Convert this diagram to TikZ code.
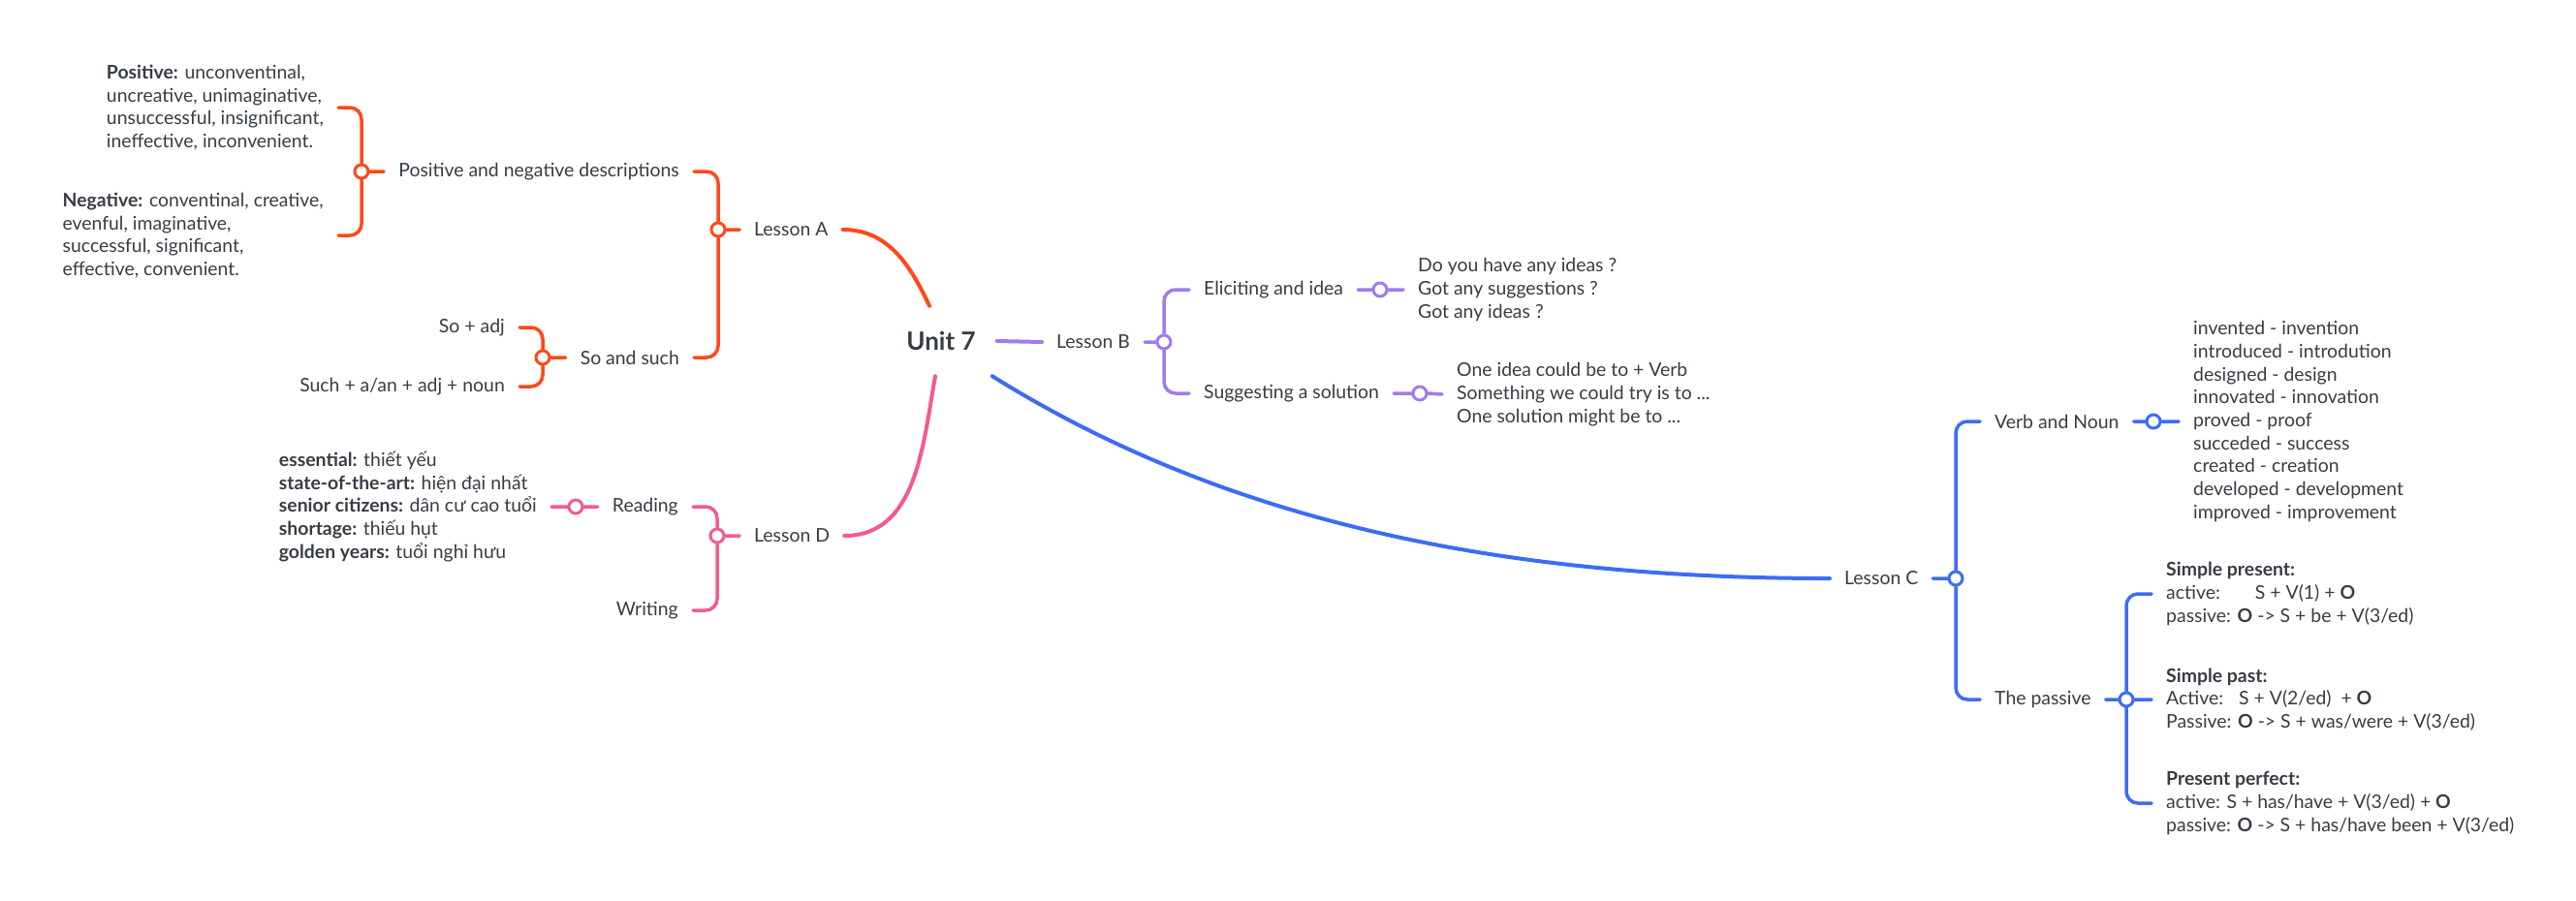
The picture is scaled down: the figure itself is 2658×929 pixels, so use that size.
\documentclass[tikz,border=0pt]{standalone}
\usepackage{fontspec}
\setmainfont{Lato}
\definecolor{inkgrey}{RGB}{55,60,68}
\definecolor{lessonA}{RGB}{255,72,25}
\definecolor{lessonB}{RGB}{160,122,240}
\definecolor{lessonC}{RGB}{60,108,245}
\definecolor{lessonD}{RGB}{245,90,140}
\begin{document}
\begin{tikzpicture}[x=1pt,y=-1pt,
        every node/.style={text=inkgrey,font=\fontsize{19.4}{23.7}\selectfont,
            inner xsep=15pt,inner ysep=2pt,align=left},
        knob/.style={circle,fill=white,line width=3pt,minimum size=14pt,inner sep=0pt},
        branch/.style={line width=3.5pt,line cap=round,rounded corners=12pt},
        trunk/.style={line width=4pt,line cap=round}]
    \useasboundingbox (0,0) rectangle (2658,929);

    \node[font=\fontsize{26}{30}\selectfont\bfseries,inner xsep=22pt,minimum height=72pt]
        (unit) at (971,352) {Unit 7};

    % Lesson A
    \node[anchor=west] (lessA) at (763,237) {Lesson A};
    \node[knob,draw=lessonA] (cA) at (741,237) {};
    \node[anchor=east] (pn) at (716,177) {Positive and negative descriptions};
    \node[anchor=east] (so) at (716,369) {So and such};
    \node[knob,draw=lessonA] (cA1) at (373,177) {};
    \node[anchor=east] (pos) at (349,111)
        {\textbf{Positive:} unconventinal,\\ uncreative, unimaginative,\\
         unsuccessful, insignificant,\\ ineffective, inconvenient.};
    \node[anchor=east] (neg) at (349,243)
        {\textbf{Negative:} conventinal, creative,\\ evenful, imaginative,\\
         successful, significant,\\ effective, convenient.};
    \node[knob,draw=lessonA] (cA2) at (560,369) {};
    \node[anchor=east] (soadj) at (536,338) {So + adj};
    \node[anchor=east] (such) at (536,399) {Such + a/an + adj + noun};
    \draw[trunk,lessonA] ([xshift=-12pt]unit.north) to[out=115,in=0] (lessA.east);
    \draw[branch,lessonA]
        (lessA.west) -- (cA.east)
        (cA.north) |- (pn.east)
        (cA.south) |- (so.east)
        (pn.west) -- (cA1.east)
        (cA1.north) |- (pos.east)
        (cA1.south) |- (neg.east)
        (so.west) -- (cA2.east)
        (cA2.north) |- (soadj.east)
        (cA2.south) |- (such.east)
    ;

    % Lesson B
    \node[anchor=west] (lessB) at (1075,353) {Lesson B};
    \node[knob,draw=lessonB] (cB) at (1201,353) {};
    \node[anchor=west] (eli) at (1227,299) {Eliciting and idea};
    \node[knob,draw=lessonB] (cB1) at (1424,299) {};
    \node[anchor=west] (eliT) at (1448,299)
        {Do you have any ideas ?\\ Got any suggestions ?\\ Got any ideas ?};
    \node[anchor=west] (sug) at (1227,406) {Suggesting a solution};
    \node[knob,draw=lessonB] (cB2) at (1465,406) {};
    \node[anchor=west] (sugT) at (1488,407)
        {One idea could be to + Verb\\ Something we could try is to ...\\
         One solution might be to ...};
    \draw[trunk,lessonB] (unit.east) -- (lessB.west);
    \draw[branch,lessonB]
        (lessB.east) -- (cB.west)
        (cB.north) |- (eli.west)
        (cB.south) |- (sug.west)
        (eli.east) -- (cB1.west)
        (cB1.east) -- (eliT.west)
        (sug.east) -- (cB2.west)
        (cB2.east) -- (sugT.west)
    ;

    % Lesson C
    \node[anchor=west] (lessC) at (1888,597) {Lesson C};
    \node[knob,draw=lessonC] (cC) at (2018,597) {};
    \node[anchor=west] (verb) at (2043,435) {Verb and Noun};
    \node[knob,draw=lessonC] (cC1) at (2222,435) {};
    \node[anchor=west] (verbT) at (2248,435)
        {invented - invention\\ introduced - introdution\\ designed - design\\
         innovated - innovation\\ proved - proof\\ succeded - success\\
         created - creation\\ developed - development\\ improved - improvement};
    \node[anchor=west] (pass) at (2043,722) {The passive};
    \node[knob,draw=lessonC] (cC2) at (2194,722) {};
    \node[anchor=west] (pres) at (2220,613)
        {\textbf{Simple present:}\\ active:\hspace{36pt}S + V(1) + \textbf{O}\\
         passive: \textbf{O} -> S + be + V(3/ed)};
    \node[anchor=west] (past) at (2220,722)
        {\textbf{Simple past:}\\ Active:\hspace{16pt}S + V(2/ed) \ + \textbf{O}\\
         Passive: \textbf{O} -> S + was/were + V(3/ed)};
    \node[anchor=west] (perf) at (2220,829)
        {\textbf{Present perfect:}\\ active: S + has/have + V(3/ed) + \textbf{O}\\
         passive: \textbf{O} -> S + has/have been + V(3/ed)};
    \draw[trunk,lessonC] ([xshift=-5pt]unit.south east)
        to[out=-32,in=180,out looseness=0.8] (lessC.west);
    \draw[branch,lessonC]
        (lessC.east) -- (cC.west)
        (cC.north) |- (verb.west)
        (cC.south) |- (pass.west)
        (verb.east) -- (cC1.west)
        (cC1.east) -- (verbT.west)
        (pass.east) -- (cC2.west)
        (cC2.north) |- (pres.west)
        (cC2.east) -- (past.west)
        (cC2.south) |- (perf.west)
    ;

    % Lesson D
    \node[anchor=west] (lessD) at (763,553) {Lesson D};
    \node[knob,draw=lessonD] (cD) at (740,553) {};
    \node[anchor=east] (read) at (715,523) {Reading};
    \node[anchor=east] (writ) at (715,630) {Writing};
    \node[knob,draw=lessonD] (cD1) at (594,523) {};
    \node[anchor=east] (vocab) at (569,523)
        {\textbf{essential:} thiết yếu\\ \textbf{state-of-the-art:} hiện đại nhất\\
         \textbf{senior citizens:} dân cư cao tuổi\\ \textbf{shortage:} thiếu hụt\\
         \textbf{golden years:} tuổi nghỉ hưu};
    \draw[trunk,lessonD] ([xshift=-6pt]unit.south) to[out=-100,in=0] (lessD.east);
    \draw[branch,lessonD]
        (lessD.west) -- (cD.east)
        (cD.north) |- (read.east)
        (cD.south) |- (writ.east)
        (read.west) -- (cD1.east)
        (cD1.west) -- (vocab.east)
    ;
\end{tikzpicture}
\end{document}
